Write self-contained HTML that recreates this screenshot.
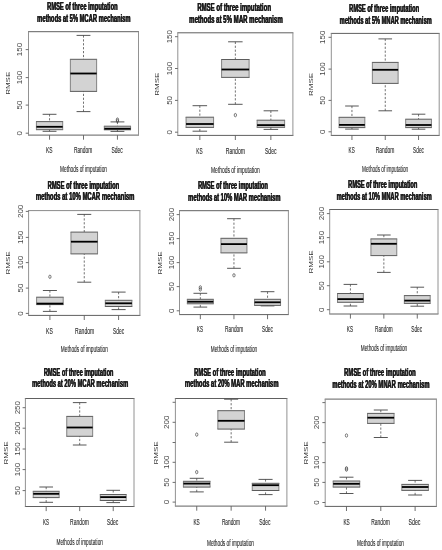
<!DOCTYPE html>
<html><head><meta charset="utf-8"><title>RMSE boxplots</title>
<style>
html,body{margin:0;padding:0;background:#fff;}
svg{display:block;}
text{font-family:"Liberation Sans",Arial,sans-serif;}
.tt{font-weight:bold;font-size:10.2px;fill:#1a1a1a;stroke:#1a1a1a;stroke-width:0.2;}
.al{font-size:8.4px;fill:#2a2a2a;stroke:#2a2a2a;stroke-width:0.12;}
.tl{font-size:8px;fill:#444;text-anchor:middle;}
.yl{font-size:8px;fill:#333;text-anchor:middle;}
.frh{fill:none;stroke:#606060;stroke-width:1;}
.frv{fill:none;stroke:#929292;stroke-width:1;}
.tk{stroke:#5e5e5e;stroke-width:0.9;}
.bx{fill:#d3d3d3;stroke:none;}
.bxh{fill:none;stroke:#4c4c4c;stroke-width:0.9;}
.bxv{fill:none;stroke:#707070;stroke-width:0.85;}
.md{stroke:#000;stroke-width:1.8;}
.wk{stroke:#5a5a5a;stroke-width:0.85;stroke-dasharray:2.2 1.7;}
.cap{stroke:#444;stroke-width:0.9;}
.ol{fill:none;stroke:#444;stroke-width:0.7;}
</style></head>
<body>
<svg width="442" height="550" viewBox="0 0 442 550">
<rect width="442" height="550" fill="#fff"/>
<g>
<path class="frh" d="M28 31.7H139"/>
<path class="frh" d="M28 135.1H139"/>
<path class="frv" d="M28.5 31.7V135.1M138.5 31.7V135.1"/>
<line x1="49.55" y1="114.3" x2="49.55" y2="121.6" class="wk"/>
<line x1="49.55" y1="131.3" x2="49.55" y2="129.7" class="wk"/>
<line x1="42.62" y1="114.3" x2="56.48" y2="114.3" class="cap"/>
<line x1="42.62" y1="131.3" x2="56.48" y2="131.3" class="cap"/>
<rect x="36.41" y="121.6" width="26.27" height="8.1" class="bx"/>
<path class="bxh" d="M35.99 121.6H63.11M35.99 129.7H63.11"/>
<path class="bxv" d="M36.41 121.6V129.7M62.69 121.6V129.7"/>
<line x1="36.41" y1="126.8" x2="62.69" y2="126.8" class="md"/>
<line x1="83.5" y1="35.4" x2="83.5" y2="59.3" class="wk"/>
<line x1="83.5" y1="111.6" x2="83.5" y2="91.4" class="wk"/>
<line x1="76.57" y1="35.4" x2="90.43" y2="35.4" class="cap"/>
<line x1="76.57" y1="111.6" x2="90.43" y2="111.6" class="cap"/>
<rect x="70.36" y="59.3" width="26.27" height="32.1" class="bx"/>
<path class="bxh" d="M69.94 59.3H97.06M69.94 91.4H97.06"/>
<path class="bxv" d="M70.36 59.3V91.4M96.64 59.3V91.4"/>
<line x1="70.36" y1="73.5" x2="96.64" y2="73.5" class="md"/>
<line x1="117.45" y1="121.9" x2="117.45" y2="126.2" class="wk"/>
<line x1="117.45" y1="131.4" x2="117.45" y2="129.8" class="wk"/>
<line x1="110.52" y1="121.9" x2="124.38" y2="121.9" class="cap"/>
<line x1="110.52" y1="131.4" x2="124.38" y2="131.4" class="cap"/>
<rect x="104.31" y="126.2" width="26.27" height="3.6" class="bx"/>
<path class="bxh" d="M103.89 126.2H131.01M103.89 129.8H131.01"/>
<path class="bxv" d="M104.31 126.2V129.8M130.59 126.2V129.8"/>
<line x1="104.31" y1="128.7" x2="130.59" y2="128.7" class="md"/>
<ellipse cx="117.45" cy="119.6" rx="1.15" ry="1.7" class="ol"/>
<ellipse cx="117.45" cy="120.9" rx="1.15" ry="1.7" class="ol"/>
<line x1="25.7" y1="133.2" x2="28.5" y2="133.2" class="tk"/>
<text class="tl" transform="translate(20,133.2) scale(0.8,1) rotate(-90)" x="0" y="2.9">0</text>
<line x1="25.7" y1="105.1" x2="28.5" y2="105.1" class="tk"/>
<text class="tl" transform="translate(20,105.1) scale(0.8,1) rotate(-90)" x="0" y="2.9">50</text>
<line x1="25.7" y1="77.6" x2="28.5" y2="77.6" class="tk"/>
<text class="tl" transform="translate(20,77.6) scale(0.8,1) rotate(-90)" x="0" y="2.9">100</text>
<line x1="25.7" y1="49.6" x2="28.5" y2="49.6" class="tk"/>
<text class="tl" transform="translate(20,49.6) scale(0.8,1) rotate(-90)" x="0" y="2.9">150</text>
<line x1="49.55" y1="135.1" x2="49.55" y2="139.7" class="tk"/>
<line x1="83.5" y1="135.1" x2="83.5" y2="139.7" class="tk"/>
<line x1="117.45" y1="135.1" x2="117.45" y2="139.7" class="tk"/>
<text class="al" x="46.1" y="153" textLength="6.5" lengthAdjust="spacingAndGlyphs">KS</text>
<text class="al" x="73.9" y="153" textLength="18.4" lengthAdjust="spacingAndGlyphs">Random</text>
<text class="al" x="111.5" y="153" textLength="11.3" lengthAdjust="spacingAndGlyphs">Sdec</text>
<text class="al" x="60" y="172.1" textLength="47" lengthAdjust="spacingAndGlyphs">Methods of imputation</text>
<text class="yl" transform="translate(7.9,83.3) scale(0.7,1) rotate(-90)" x="0" y="2.9">RMSE</text>
<text class="tt" x="47" y="9.9" textLength="70.45" lengthAdjust="spacingAndGlyphs">RMSE of three imputation</text>
<text class="tt" x="37" y="21.8" textLength="93.45" lengthAdjust="spacingAndGlyphs">methods at 5% MCAR mechanism</text>
<text class="tt" x="47.25" y="9.9" textLength="70.45" lengthAdjust="spacingAndGlyphs">RMSE of three imputation</text>
<text class="tt" x="37.25" y="21.8" textLength="93.45" lengthAdjust="spacingAndGlyphs">methods at 5% MCAR mechanism</text>
</g>
<g>
<path class="frh" d="M177.3 32.8H293.4"/>
<path class="frh" d="M177.3 135.4H293.4"/>
<path class="frv" d="M177.8 32.8V135.4M292.9 32.8V135.4"/>
<line x1="199.83" y1="105.7" x2="199.83" y2="117.2" class="wk"/>
<line x1="199.83" y1="131.2" x2="199.83" y2="127.4" class="wk"/>
<line x1="192.57" y1="105.7" x2="207.08" y2="105.7" class="cap"/>
<line x1="192.57" y1="131.2" x2="207.08" y2="131.2" class="cap"/>
<rect x="186.06" y="117.2" width="27.53" height="10.2" class="bx"/>
<path class="bxh" d="M185.64 117.2H214.01M185.64 127.4H214.01"/>
<path class="bxv" d="M186.06 117.2V127.4M213.59 117.2V127.4"/>
<line x1="186.06" y1="124" x2="213.59" y2="124" class="md"/>
<line x1="235.35" y1="41.8" x2="235.35" y2="59.5" class="wk"/>
<line x1="235.35" y1="104.3" x2="235.35" y2="77.4" class="wk"/>
<line x1="228.1" y1="41.8" x2="242.6" y2="41.8" class="cap"/>
<line x1="228.1" y1="104.3" x2="242.6" y2="104.3" class="cap"/>
<rect x="221.58" y="59.5" width="27.53" height="17.9" class="bx"/>
<path class="bxh" d="M221.16 59.5H249.54M221.16 77.4H249.54"/>
<path class="bxv" d="M221.58 59.5V77.4M249.12 59.5V77.4"/>
<line x1="221.58" y1="69.5" x2="249.12" y2="69.5" class="md"/>
<ellipse cx="235.35" cy="115.1" rx="1.15" ry="1.7" class="ol"/>
<line x1="270.87" y1="110.8" x2="270.87" y2="120.2" class="wk"/>
<line x1="270.87" y1="129.4" x2="270.87" y2="127.3" class="wk"/>
<line x1="263.62" y1="110.8" x2="278.13" y2="110.8" class="cap"/>
<line x1="263.62" y1="129.4" x2="278.13" y2="129.4" class="cap"/>
<rect x="257.11" y="120.2" width="27.53" height="7.1" class="bx"/>
<path class="bxh" d="M256.69 120.2H285.06M256.69 127.3H285.06"/>
<path class="bxv" d="M257.11 120.2V127.3M284.64 120.2V127.3"/>
<line x1="257.11" y1="125.1" x2="284.64" y2="125.1" class="md"/>
<line x1="175" y1="132.2" x2="177.8" y2="132.2" class="tk"/>
<text class="tl" transform="translate(170,132.2) scale(0.8,1) rotate(-90)" x="0" y="2.9">0</text>
<line x1="175" y1="100.4" x2="177.8" y2="100.4" class="tk"/>
<text class="tl" transform="translate(170,100.4) scale(0.8,1) rotate(-90)" x="0" y="2.9">50</text>
<line x1="175" y1="68.5" x2="177.8" y2="68.5" class="tk"/>
<text class="tl" transform="translate(170,68.5) scale(0.8,1) rotate(-90)" x="0" y="2.9">100</text>
<line x1="175" y1="36.7" x2="177.8" y2="36.7" class="tk"/>
<text class="tl" transform="translate(170,36.7) scale(0.8,1) rotate(-90)" x="0" y="2.9">150</text>
<line x1="199.83" y1="135.4" x2="199.83" y2="140" class="tk"/>
<line x1="235.35" y1="135.4" x2="235.35" y2="140" class="tk"/>
<line x1="270.87" y1="135.4" x2="270.87" y2="140" class="tk"/>
<text class="al" x="196.3" y="153.5" textLength="6.3" lengthAdjust="spacingAndGlyphs">KS</text>
<text class="al" x="225.7" y="153.5" textLength="19.3" lengthAdjust="spacingAndGlyphs">Random</text>
<text class="al" x="264.9" y="153.5" textLength="11.7" lengthAdjust="spacingAndGlyphs">Sdec</text>
<text class="al" x="211" y="173" textLength="48.7" lengthAdjust="spacingAndGlyphs">Methods of imputation</text>
<text class="yl" transform="translate(156.6,84.2) scale(0.7,1) rotate(-90)" x="0" y="2.9">RMSE</text>
<text class="tt" x="197.2" y="11.4" textLength="73.65" lengthAdjust="spacingAndGlyphs">RMSE of three imputation</text>
<text class="tt" x="189" y="23.2" textLength="93.55" lengthAdjust="spacingAndGlyphs">methods at 5% MAR mechanism</text>
<text class="tt" x="197.45" y="11.4" textLength="73.65" lengthAdjust="spacingAndGlyphs">RMSE of three imputation</text>
<text class="tt" x="189.25" y="23.2" textLength="93.55" lengthAdjust="spacingAndGlyphs">methods at 5% MAR mechanism</text>
</g>
<g>
<path class="frh" d="M330.8 33.4H439.7"/>
<path class="frh" d="M330.8 135.4H439.7"/>
<path class="frv" d="M331.3 33.4V135.4M439.2 33.4V135.4"/>
<line x1="351.95" y1="106" x2="351.95" y2="117.3" class="wk"/>
<line x1="351.95" y1="129.1" x2="351.95" y2="127.6" class="wk"/>
<line x1="345.15" y1="106" x2="358.75" y2="106" class="cap"/>
<line x1="345.15" y1="129.1" x2="358.75" y2="129.1" class="cap"/>
<rect x="339.07" y="117.3" width="25.76" height="10.3" class="bx"/>
<path class="bxh" d="M338.65 117.3H365.25M338.65 127.6H365.25"/>
<path class="bxv" d="M339.07 117.3V127.6M364.83 117.3V127.6"/>
<line x1="339.07" y1="124.9" x2="364.83" y2="124.9" class="md"/>
<line x1="385.25" y1="38.9" x2="385.25" y2="62.4" class="wk"/>
<line x1="385.25" y1="110.8" x2="385.25" y2="83.4" class="wk"/>
<line x1="378.45" y1="38.9" x2="392.05" y2="38.9" class="cap"/>
<line x1="378.45" y1="110.8" x2="392.05" y2="110.8" class="cap"/>
<rect x="372.37" y="62.4" width="25.76" height="21" class="bx"/>
<path class="bxh" d="M371.95 62.4H398.55M371.95 83.4H398.55"/>
<path class="bxv" d="M372.37 62.4V83.4M398.13 62.4V83.4"/>
<line x1="372.37" y1="69.8" x2="398.13" y2="69.8" class="md"/>
<line x1="418.55" y1="114.2" x2="418.55" y2="119.2" class="wk"/>
<line x1="418.55" y1="129.2" x2="418.55" y2="127.6" class="wk"/>
<line x1="411.75" y1="114.2" x2="425.35" y2="114.2" class="cap"/>
<line x1="411.75" y1="129.2" x2="425.35" y2="129.2" class="cap"/>
<rect x="405.67" y="119.2" width="25.76" height="8.4" class="bx"/>
<path class="bxh" d="M405.25 119.2H431.85M405.25 127.6H431.85"/>
<path class="bxv" d="M405.67 119.2V127.6M431.43 119.2V127.6"/>
<line x1="405.67" y1="125" x2="431.43" y2="125" class="md"/>
<line x1="328.5" y1="131.8" x2="331.3" y2="131.8" class="tk"/>
<text class="tl" transform="translate(322.7,131.8) scale(0.8,1) rotate(-90)" x="0" y="2.9">0</text>
<line x1="328.5" y1="100.4" x2="331.3" y2="100.4" class="tk"/>
<text class="tl" transform="translate(322.7,100.4) scale(0.8,1) rotate(-90)" x="0" y="2.9">50</text>
<line x1="328.5" y1="69.1" x2="331.3" y2="69.1" class="tk"/>
<text class="tl" transform="translate(322.7,69.1) scale(0.8,1) rotate(-90)" x="0" y="2.9">100</text>
<line x1="328.5" y1="37.3" x2="331.3" y2="37.3" class="tk"/>
<text class="tl" transform="translate(322.7,37.3) scale(0.8,1) rotate(-90)" x="0" y="2.9">150</text>
<line x1="351.95" y1="135.4" x2="351.95" y2="140" class="tk"/>
<line x1="385.25" y1="135.4" x2="385.25" y2="140" class="tk"/>
<line x1="418.55" y1="135.4" x2="418.55" y2="140" class="tk"/>
<text class="al" x="348.6" y="153" textLength="6.1" lengthAdjust="spacingAndGlyphs">KS</text>
<text class="al" x="375.7" y="153" textLength="18.6" lengthAdjust="spacingAndGlyphs">Random</text>
<text class="al" x="413.1" y="153" textLength="10.8" lengthAdjust="spacingAndGlyphs">Sdec</text>
<text class="al" x="362.1" y="172.3" textLength="46" lengthAdjust="spacingAndGlyphs">Methods of imputation</text>
<text class="yl" transform="translate(310.9,84.4) scale(0.7,1) rotate(-90)" x="0" y="2.9">RMSE</text>
<text class="tt" x="349" y="12.1" textLength="69.95" lengthAdjust="spacingAndGlyphs">RMSE of three imputation</text>
<text class="tt" x="339.6" y="24" textLength="92.05" lengthAdjust="spacingAndGlyphs">methods at 5% MNAR mechanism</text>
<text class="tt" x="349.25" y="12.1" textLength="69.95" lengthAdjust="spacingAndGlyphs">RMSE of three imputation</text>
<text class="tt" x="339.85" y="24" textLength="92.05" lengthAdjust="spacingAndGlyphs">methods at 5% MNAR mechanism</text>
</g>
<g>
<path class="frh" style="stroke:#8a8a8a" d="M28.1 210.6H140.4"/>
<path class="frh" d="M28.1 315.4H140.4"/>
<path class="frv" d="M28.6 210.6V315.4M139.9 210.6V315.4"/>
<line x1="49.9" y1="290.5" x2="49.9" y2="297.2" class="wk"/>
<line x1="49.9" y1="311.4" x2="49.9" y2="304.6" class="wk"/>
<line x1="42.89" y1="290.5" x2="56.91" y2="290.5" class="cap"/>
<line x1="42.89" y1="311.4" x2="56.91" y2="311.4" class="cap"/>
<rect x="36.6" y="297.2" width="26.6" height="7.4" class="bx"/>
<path class="bxh" d="M36.18 297.2H63.62M36.18 304.6H63.62"/>
<path class="bxv" d="M36.6 297.2V304.6M63.2 297.2V304.6"/>
<line x1="36.6" y1="303.6" x2="63.2" y2="303.6" class="md"/>
<ellipse cx="49.9" cy="276.8" rx="1.15" ry="1.7" class="ol"/>
<line x1="84.25" y1="214.4" x2="84.25" y2="232.1" class="wk"/>
<line x1="84.25" y1="282.2" x2="84.25" y2="253.9" class="wk"/>
<line x1="77.24" y1="214.4" x2="91.26" y2="214.4" class="cap"/>
<line x1="77.24" y1="282.2" x2="91.26" y2="282.2" class="cap"/>
<rect x="70.95" y="232.1" width="26.6" height="21.8" class="bx"/>
<path class="bxh" d="M70.53 232.1H97.97M70.53 253.9H97.97"/>
<path class="bxv" d="M70.95 232.1V253.9M97.55 232.1V253.9"/>
<line x1="70.95" y1="241.7" x2="97.55" y2="241.7" class="md"/>
<line x1="118.6" y1="292.1" x2="118.6" y2="300.3" class="wk"/>
<line x1="118.6" y1="309.6" x2="118.6" y2="306.5" class="wk"/>
<line x1="111.59" y1="292.1" x2="125.61" y2="292.1" class="cap"/>
<line x1="111.59" y1="309.6" x2="125.61" y2="309.6" class="cap"/>
<rect x="105.3" y="300.3" width="26.6" height="6.2" class="bx"/>
<path class="bxh" d="M104.88 300.3H132.32M104.88 306.5H132.32"/>
<path class="bxv" d="M105.3 300.3V306.5M131.9 300.3V306.5"/>
<line x1="105.3" y1="303.3" x2="131.9" y2="303.3" class="md"/>
<line x1="25.8" y1="313.4" x2="28.6" y2="313.4" class="tk"/>
<text class="tl" transform="translate(20.4,313.4) scale(0.8,1) rotate(-90)" x="0" y="2.9">0</text>
<line x1="25.8" y1="288.1" x2="28.6" y2="288.1" class="tk"/>
<text class="tl" transform="translate(20.4,288.1) scale(0.8,1) rotate(-90)" x="0" y="2.9">50</text>
<line x1="25.8" y1="262.6" x2="28.6" y2="262.6" class="tk"/>
<text class="tl" transform="translate(20.4,262.6) scale(0.8,1) rotate(-90)" x="0" y="2.9">100</text>
<line x1="25.8" y1="237.4" x2="28.6" y2="237.4" class="tk"/>
<text class="tl" transform="translate(20.4,237.4) scale(0.8,1) rotate(-90)" x="0" y="2.9">150</text>
<line x1="25.8" y1="211.4" x2="28.6" y2="211.4" class="tk"/>
<text class="tl" transform="translate(20.4,211.4) scale(0.8,1) rotate(-90)" x="0" y="2.9">200</text>
<line x1="49.9" y1="315.4" x2="49.9" y2="320" class="tk"/>
<line x1="84.25" y1="315.4" x2="84.25" y2="320" class="tk"/>
<line x1="118.6" y1="315.4" x2="118.6" y2="320" class="tk"/>
<text class="al" x="46.1" y="333.5" textLength="6.8" lengthAdjust="spacingAndGlyphs">KS</text>
<text class="al" x="75.1" y="333.5" textLength="19.2" lengthAdjust="spacingAndGlyphs">Random</text>
<text class="al" x="113.1" y="333.5" textLength="11.1" lengthAdjust="spacingAndGlyphs">Sdec</text>
<text class="al" x="60.8" y="352.3" textLength="47.1" lengthAdjust="spacingAndGlyphs">Methods of imputation</text>
<text class="yl" transform="translate(8.2,263) scale(0.7,1) rotate(-90)" x="0" y="2.9">RMSE</text>
<text class="tt" x="47.5" y="188.7" textLength="71.55" lengthAdjust="spacingAndGlyphs">RMSE of three imputation</text>
<text class="tt" x="35.7" y="200.3" textLength="98.65" lengthAdjust="spacingAndGlyphs">methods at 10% MCAR mechanism</text>
<text class="tt" x="47.75" y="188.7" textLength="71.55" lengthAdjust="spacingAndGlyphs">RMSE of three imputation</text>
<text class="tt" x="35.95" y="200.3" textLength="98.65" lengthAdjust="spacingAndGlyphs">methods at 10% MCAR mechanism</text>
</g>
<g>
<path class="frh" d="M179 210.7H288.9"/>
<path class="frh" d="M179 314.6H288.9"/>
<path class="frv" d="M179.5 210.7V314.6M288.4 210.7V314.6"/>
<line x1="200.34" y1="293.3" x2="200.34" y2="299.3" class="wk"/>
<line x1="200.34" y1="307.1" x2="200.34" y2="303.8" class="wk"/>
<line x1="193.48" y1="293.3" x2="207.2" y2="293.3" class="cap"/>
<line x1="193.48" y1="307.1" x2="207.2" y2="307.1" class="cap"/>
<rect x="187.34" y="299.3" width="26" height="4.5" class="bx"/>
<path class="bxh" d="M186.92 299.3H213.76M186.92 303.8H213.76"/>
<path class="bxv" d="M187.34 299.3V303.8M213.34 299.3V303.8"/>
<line x1="187.34" y1="301.7" x2="213.34" y2="301.7" class="md"/>
<ellipse cx="200.34" cy="287.4" rx="1.15" ry="1.7" class="ol"/>
<ellipse cx="200.34" cy="289.4" rx="1.15" ry="1.7" class="ol"/>
<line x1="233.95" y1="218.7" x2="233.95" y2="238.3" class="wk"/>
<line x1="233.95" y1="268.3" x2="233.95" y2="252.9" class="wk"/>
<line x1="227.09" y1="218.7" x2="240.81" y2="218.7" class="cap"/>
<line x1="227.09" y1="268.3" x2="240.81" y2="268.3" class="cap"/>
<rect x="220.95" y="238.3" width="26" height="14.6" class="bx"/>
<path class="bxh" d="M220.53 238.3H247.37M220.53 252.9H247.37"/>
<path class="bxv" d="M220.95 238.3V252.9M246.95 238.3V252.9"/>
<line x1="220.95" y1="244.1" x2="246.95" y2="244.1" class="md"/>
<ellipse cx="233.95" cy="275.3" rx="1.15" ry="1.7" class="ol"/>
<line x1="267.56" y1="291.7" x2="267.56" y2="299.3" class="wk"/>
<line x1="267.56" y1="305.9" x2="267.56" y2="305.4" class="wk"/>
<line x1="260.7" y1="291.7" x2="274.42" y2="291.7" class="cap"/>
<line x1="260.7" y1="305.9" x2="274.42" y2="305.9" class="cap"/>
<rect x="254.56" y="299.3" width="26" height="6.1" class="bx"/>
<path class="bxh" d="M254.14 299.3H280.98M254.14 305.4H280.98"/>
<path class="bxv" d="M254.56 299.3V305.4M280.56 299.3V305.4"/>
<line x1="254.56" y1="302.3" x2="280.56" y2="302.3" class="md"/>
<line x1="176.7" y1="310.8" x2="179.5" y2="310.8" class="tk"/>
<text class="tl" transform="translate(171.4,310.8) scale(0.8,1) rotate(-90)" x="0" y="2.9">0</text>
<line x1="176.7" y1="286.6" x2="179.5" y2="286.6" class="tk"/>
<text class="tl" transform="translate(171.4,286.6) scale(0.8,1) rotate(-90)" x="0" y="2.9">50</text>
<line x1="176.7" y1="262.6" x2="179.5" y2="262.6" class="tk"/>
<text class="tl" transform="translate(171.4,262.6) scale(0.8,1) rotate(-90)" x="0" y="2.9">100</text>
<line x1="176.7" y1="238.6" x2="179.5" y2="238.6" class="tk"/>
<text class="tl" transform="translate(171.4,238.6) scale(0.8,1) rotate(-90)" x="0" y="2.9">150</text>
<line x1="176.7" y1="214.6" x2="179.5" y2="214.6" class="tk"/>
<text class="tl" transform="translate(171.4,214.6) scale(0.8,1) rotate(-90)" x="0" y="2.9">200</text>
<line x1="200.34" y1="314.6" x2="200.34" y2="319.2" class="tk"/>
<line x1="233.95" y1="314.6" x2="233.95" y2="319.2" class="tk"/>
<line x1="267.56" y1="314.6" x2="267.56" y2="319.2" class="tk"/>
<text class="al" x="196.8" y="332.4" textLength="6.3" lengthAdjust="spacingAndGlyphs">KS</text>
<text class="al" x="225.1" y="332.4" textLength="18.1" lengthAdjust="spacingAndGlyphs">Random</text>
<text class="al" x="261.9" y="332.4" textLength="11.1" lengthAdjust="spacingAndGlyphs">Sdec</text>
<text class="al" x="210.8" y="351.8" textLength="46.4" lengthAdjust="spacingAndGlyphs">Methods of imputation</text>
<text class="yl" transform="translate(160.3,263) scale(0.7,1) rotate(-90)" x="0" y="2.9">RMSE</text>
<text class="tt" x="197.9" y="189.4" textLength="69.95" lengthAdjust="spacingAndGlyphs">RMSE of three imputation</text>
<text class="tt" x="188.1" y="200.6" textLength="92.35" lengthAdjust="spacingAndGlyphs">methods at 10% MAR mechanism</text>
<text class="tt" x="198.15" y="189.4" textLength="69.95" lengthAdjust="spacingAndGlyphs">RMSE of three imputation</text>
<text class="tt" x="188.35" y="200.6" textLength="92.35" lengthAdjust="spacingAndGlyphs">methods at 10% MAR mechanism</text>
</g>
<g>
<path class="frh" d="M329.2 209.5H438.5"/>
<path class="frh" d="M329.2 314H438.5"/>
<path class="frv" d="M329.7 209.5V314M438 209.5V314"/>
<line x1="350.42" y1="284.4" x2="350.42" y2="293.5" class="wk"/>
<line x1="350.42" y1="306" x2="350.42" y2="302.3" class="wk"/>
<line x1="343.6" y1="284.4" x2="357.25" y2="284.4" class="cap"/>
<line x1="343.6" y1="306" x2="357.25" y2="306" class="cap"/>
<rect x="337.5" y="293.5" width="25.86" height="8.8" class="bx"/>
<path class="bxh" d="M337.08 293.5H363.77M337.08 302.3H363.77"/>
<path class="bxv" d="M337.5 293.5V302.3M363.35 293.5V302.3"/>
<line x1="337.5" y1="299.1" x2="363.35" y2="299.1" class="md"/>
<line x1="383.85" y1="235" x2="383.85" y2="238.9" class="wk"/>
<line x1="383.85" y1="272.4" x2="383.85" y2="255.6" class="wk"/>
<line x1="377.03" y1="235" x2="390.67" y2="235" class="cap"/>
<line x1="377.03" y1="272.4" x2="390.67" y2="272.4" class="cap"/>
<rect x="370.92" y="238.9" width="25.86" height="16.7" class="bx"/>
<path class="bxh" d="M370.5 238.9H397.2M370.5 255.6H397.2"/>
<path class="bxv" d="M370.92 238.9V255.6M396.78 238.9V255.6"/>
<line x1="370.92" y1="243.8" x2="396.78" y2="243.8" class="md"/>
<line x1="417.28" y1="287.2" x2="417.28" y2="295.6" class="wk"/>
<line x1="417.28" y1="306.2" x2="417.28" y2="303.4" class="wk"/>
<line x1="410.45" y1="287.2" x2="424.1" y2="287.2" class="cap"/>
<line x1="410.45" y1="306.2" x2="424.1" y2="306.2" class="cap"/>
<rect x="404.35" y="295.6" width="25.86" height="7.8" class="bx"/>
<path class="bxh" d="M403.93 295.6H430.62M403.93 303.4H430.62"/>
<path class="bxv" d="M404.35 295.6V303.4M430.2 295.6V303.4"/>
<line x1="404.35" y1="300.6" x2="430.2" y2="300.6" class="md"/>
<line x1="326.9" y1="309.7" x2="329.7" y2="309.7" class="tk"/>
<text class="tl" transform="translate(321.4,309.7) scale(0.8,1) rotate(-90)" x="0" y="2.9">0</text>
<line x1="326.9" y1="285.7" x2="329.7" y2="285.7" class="tk"/>
<text class="tl" transform="translate(321.4,285.7) scale(0.8,1) rotate(-90)" x="0" y="2.9">50</text>
<line x1="326.9" y1="261.8" x2="329.7" y2="261.8" class="tk"/>
<text class="tl" transform="translate(321.4,261.8) scale(0.8,1) rotate(-90)" x="0" y="2.9">100</text>
<line x1="326.9" y1="237.6" x2="329.7" y2="237.6" class="tk"/>
<text class="tl" transform="translate(321.4,237.6) scale(0.8,1) rotate(-90)" x="0" y="2.9">150</text>
<line x1="326.9" y1="213.6" x2="329.7" y2="213.6" class="tk"/>
<text class="tl" transform="translate(321.4,213.6) scale(0.8,1) rotate(-90)" x="0" y="2.9">200</text>
<line x1="350.42" y1="314" x2="350.42" y2="318.6" class="tk"/>
<line x1="383.85" y1="314" x2="383.85" y2="318.6" class="tk"/>
<line x1="417.28" y1="314" x2="417.28" y2="318.6" class="tk"/>
<text class="al" x="346.8" y="331.5" textLength="6.3" lengthAdjust="spacingAndGlyphs">KS</text>
<text class="al" x="375.1" y="331.5" textLength="17.6" lengthAdjust="spacingAndGlyphs">Random</text>
<text class="al" x="411.3" y="331.5" textLength="10.8" lengthAdjust="spacingAndGlyphs">Sdec</text>
<text class="al" x="360.8" y="351.1" textLength="46.4" lengthAdjust="spacingAndGlyphs">Methods of imputation</text>
<text class="yl" transform="translate(310.9,262) scale(0.7,1) rotate(-90)" x="0" y="2.9">RMSE</text>
<text class="tt" x="348.1" y="188.1" textLength="69.15" lengthAdjust="spacingAndGlyphs">RMSE of three imputation</text>
<text class="tt" x="336.4" y="199.5" textLength="95.25" lengthAdjust="spacingAndGlyphs">methods at 10% MNAR mechanism</text>
<text class="tt" x="348.35" y="188.1" textLength="69.15" lengthAdjust="spacingAndGlyphs">RMSE of three imputation</text>
<text class="tt" x="336.65" y="199.5" textLength="95.25" lengthAdjust="spacingAndGlyphs">methods at 10% MNAR mechanism</text>
</g>
<g>
<path class="frh" d="M24.9 398.5H134.5"/>
<path class="frh" d="M24.9 506.5H134.5"/>
<path class="frv" d="M25.4 398.5V506.5M134 398.5V506.5"/>
<line x1="46.18" y1="487" x2="46.18" y2="491.3" class="wk"/>
<line x1="46.18" y1="502.3" x2="46.18" y2="497.6" class="wk"/>
<line x1="39.34" y1="487" x2="53.02" y2="487" class="cap"/>
<line x1="39.34" y1="502.3" x2="53.02" y2="502.3" class="cap"/>
<rect x="33.22" y="491.3" width="25.93" height="6.3" class="bx"/>
<path class="bxh" d="M32.8 491.3H59.57M32.8 497.6H59.57"/>
<path class="bxv" d="M33.22 491.3V497.6M59.15 491.3V497.6"/>
<line x1="33.22" y1="493.8" x2="59.15" y2="493.8" class="md"/>
<line x1="79.7" y1="402.6" x2="79.7" y2="416.4" class="wk"/>
<line x1="79.7" y1="445" x2="79.7" y2="436.3" class="wk"/>
<line x1="72.86" y1="402.6" x2="86.54" y2="402.6" class="cap"/>
<line x1="72.86" y1="445" x2="86.54" y2="445" class="cap"/>
<rect x="66.74" y="416.4" width="25.93" height="19.9" class="bx"/>
<path class="bxh" d="M66.32 416.4H93.08M66.32 436.3H93.08"/>
<path class="bxv" d="M66.74 416.4V436.3M92.66 416.4V436.3"/>
<line x1="66.74" y1="427.5" x2="92.66" y2="427.5" class="md"/>
<line x1="113.22" y1="490.3" x2="113.22" y2="494.5" class="wk"/>
<line x1="113.22" y1="502.6" x2="113.22" y2="500.5" class="wk"/>
<line x1="106.38" y1="490.3" x2="120.06" y2="490.3" class="cap"/>
<line x1="106.38" y1="502.6" x2="120.06" y2="502.6" class="cap"/>
<rect x="100.25" y="494.5" width="25.93" height="6" class="bx"/>
<path class="bxh" d="M99.83 494.5H126.6M99.83 500.5H126.6"/>
<path class="bxv" d="M100.25 494.5V500.5M126.18 494.5V500.5"/>
<line x1="100.25" y1="497.1" x2="126.18" y2="497.1" class="md"/>
<line x1="22.6" y1="490.6" x2="25.4" y2="490.6" class="tk"/>
<text class="tl" transform="translate(17.8,490.6) scale(0.8,1) rotate(-90)" x="0" y="2.9">50</text>
<line x1="22.6" y1="469.6" x2="25.4" y2="469.6" class="tk"/>
<text class="tl" transform="translate(17.8,469.6) scale(0.8,1) rotate(-90)" x="0" y="2.9">100</text>
<line x1="22.6" y1="449" x2="25.4" y2="449" class="tk"/>
<text class="tl" transform="translate(17.8,449) scale(0.8,1) rotate(-90)" x="0" y="2.9">150</text>
<line x1="22.6" y1="428.2" x2="25.4" y2="428.2" class="tk"/>
<text class="tl" transform="translate(17.8,428.2) scale(0.8,1) rotate(-90)" x="0" y="2.9">200</text>
<line x1="22.6" y1="407.7" x2="25.4" y2="407.7" class="tk"/>
<text class="tl" transform="translate(17.8,407.7) scale(0.8,1) rotate(-90)" x="0" y="2.9">250</text>
<line x1="46.18" y1="506.5" x2="46.18" y2="511.1" class="tk"/>
<line x1="79.7" y1="506.5" x2="79.7" y2="511.1" class="tk"/>
<line x1="113.22" y1="506.5" x2="113.22" y2="511.1" class="tk"/>
<text class="al" x="42.9" y="524.9" textLength="6.1" lengthAdjust="spacingAndGlyphs">KS</text>
<text class="al" x="70.1" y="524.9" textLength="18.7" lengthAdjust="spacingAndGlyphs">Random</text>
<text class="al" x="106.9" y="524.9" textLength="11.4" lengthAdjust="spacingAndGlyphs">Sdec</text>
<text class="al" x="56.5" y="545" textLength="46.4" lengthAdjust="spacingAndGlyphs">Methods of imputation</text>
<text class="yl" transform="translate(5.6,453) scale(0.7,1) rotate(-90)" x="0" y="2.9">RMSE</text>
<text class="tt" x="43.7" y="375.7" textLength="69.65" lengthAdjust="spacingAndGlyphs">RMSE of three imputation</text>
<text class="tt" x="32" y="387.4" textLength="96.05" lengthAdjust="spacingAndGlyphs">methods at 20% MCAR mechanism</text>
<text class="tt" x="43.95" y="375.7" textLength="69.65" lengthAdjust="spacingAndGlyphs">RMSE of three imputation</text>
<text class="tt" x="32.25" y="387.4" textLength="96.05" lengthAdjust="spacingAndGlyphs">methods at 20% MCAR mechanism</text>
</g>
<g>
<path class="frh" d="M174.9 398.5H287.4"/>
<path class="frh" d="M174.9 506.1H287.4"/>
<path class="frv" d="M175.4 398.5V506.1M286.9 398.5V506.1"/>
<line x1="196.74" y1="478.3" x2="196.74" y2="481.3" class="wk"/>
<line x1="196.74" y1="491.9" x2="196.74" y2="487.1" class="wk"/>
<line x1="189.71" y1="478.3" x2="203.76" y2="478.3" class="cap"/>
<line x1="189.71" y1="491.9" x2="203.76" y2="491.9" class="cap"/>
<rect x="183.41" y="481.3" width="26.64" height="5.8" class="bx"/>
<path class="bxh" d="M182.99 481.3H210.48M182.99 487.1H210.48"/>
<path class="bxv" d="M183.41 481.3V487.1M210.06 481.3V487.1"/>
<line x1="183.41" y1="483.6" x2="210.06" y2="483.6" class="md"/>
<ellipse cx="196.74" cy="434.6" rx="1.15" ry="1.7" class="ol"/>
<ellipse cx="196.74" cy="472.1" rx="1.15" ry="1.7" class="ol"/>
<line x1="231.15" y1="399.2" x2="231.15" y2="410.7" class="wk"/>
<line x1="231.15" y1="442.2" x2="231.15" y2="429.1" class="wk"/>
<line x1="224.13" y1="399.2" x2="238.17" y2="399.2" class="cap"/>
<line x1="224.13" y1="442.2" x2="238.17" y2="442.2" class="cap"/>
<rect x="217.83" y="410.7" width="26.64" height="18.4" class="bx"/>
<path class="bxh" d="M217.41 410.7H244.89M217.41 429.1H244.89"/>
<path class="bxv" d="M217.83 410.7V429.1M244.47 410.7V429.1"/>
<line x1="217.83" y1="420.8" x2="244.47" y2="420.8" class="md"/>
<line x1="265.56" y1="479.4" x2="265.56" y2="483.3" class="wk"/>
<line x1="265.56" y1="494.6" x2="265.56" y2="490.5" class="wk"/>
<line x1="258.54" y1="479.4" x2="272.59" y2="479.4" class="cap"/>
<line x1="258.54" y1="494.6" x2="272.59" y2="494.6" class="cap"/>
<rect x="252.24" y="483.3" width="26.64" height="7.2" class="bx"/>
<path class="bxh" d="M251.82 483.3H279.31M251.82 490.5H279.31"/>
<path class="bxv" d="M252.24 483.3V490.5M278.89 483.3V490.5"/>
<line x1="252.24" y1="485.2" x2="278.89" y2="485.2" class="md"/>
<line x1="172.6" y1="502.1" x2="175.4" y2="502.1" class="tk"/>
<text class="tl" transform="translate(167,502.1) scale(0.8,1) rotate(-90)" x="0" y="2.9">0</text>
<line x1="172.6" y1="482.4" x2="175.4" y2="482.4" class="tk"/>
<text class="tl" transform="translate(167,482.4) scale(0.8,1) rotate(-90)" x="0" y="2.9">50</text>
<line x1="172.6" y1="462.3" x2="175.4" y2="462.3" class="tk"/>
<text class="tl" transform="translate(167,462.3) scale(0.8,1) rotate(-90)" x="0" y="2.9">100</text>
<line x1="172.6" y1="442.5" x2="175.4" y2="442.5" class="tk"/>
<line x1="172.6" y1="422.3" x2="175.4" y2="422.3" class="tk"/>
<text class="tl" transform="translate(167,422.3) scale(0.8,1) rotate(-90)" x="0" y="2.9">200</text>
<line x1="172.6" y1="402.3" x2="175.4" y2="402.3" class="tk"/>
<line x1="196.74" y1="506.1" x2="196.74" y2="510.7" class="tk"/>
<line x1="231.15" y1="506.1" x2="231.15" y2="510.7" class="tk"/>
<line x1="265.56" y1="506.1" x2="265.56" y2="510.7" class="tk"/>
<text class="al" x="193.4" y="524.6" textLength="6.3" lengthAdjust="spacingAndGlyphs">KS</text>
<text class="al" x="221.9" y="524.6" textLength="18.1" lengthAdjust="spacingAndGlyphs">Random</text>
<text class="al" x="259.2" y="524.6" textLength="11.3" lengthAdjust="spacingAndGlyphs">Sdec</text>
<text class="al" x="206.9" y="545.7" textLength="47.1" lengthAdjust="spacingAndGlyphs">Methods of imputation</text>
<text class="yl" transform="translate(155.6,453) scale(0.7,1) rotate(-90)" x="0" y="2.9">RMSE</text>
<text class="tt" x="194.1" y="375.7" textLength="71.45" lengthAdjust="spacingAndGlyphs">RMSE of three imputation</text>
<text class="tt" x="184.8" y="387.4" textLength="93.55" lengthAdjust="spacingAndGlyphs">methods at 20% MAR mechanism</text>
<text class="tt" x="194.35" y="375.7" textLength="71.45" lengthAdjust="spacingAndGlyphs">RMSE of three imputation</text>
<text class="tt" x="185.05" y="387.4" textLength="93.55" lengthAdjust="spacingAndGlyphs">methods at 20% MAR mechanism</text>
</g>
<g>
<path class="frh" d="M324.7 399.1H436.9"/>
<path class="frh" d="M324.7 506.4H436.9"/>
<path class="frv" d="M325.2 399.1V506.4M436.4 399.1V506.4"/>
<line x1="346.48" y1="477.2" x2="346.48" y2="481" class="wk"/>
<line x1="346.48" y1="493.5" x2="346.48" y2="487.1" class="wk"/>
<line x1="339.47" y1="477.2" x2="353.48" y2="477.2" class="cap"/>
<line x1="339.47" y1="493.5" x2="353.48" y2="493.5" class="cap"/>
<rect x="333.19" y="481" width="26.57" height="6.1" class="bx"/>
<path class="bxh" d="M332.77 481H360.18M332.77 487.1H360.18"/>
<path class="bxv" d="M333.19 481V487.1M359.76 481V487.1"/>
<line x1="333.19" y1="483.8" x2="359.76" y2="483.8" class="md"/>
<ellipse cx="346.48" cy="435.5" rx="1.15" ry="1.7" class="ol"/>
<ellipse cx="346.48" cy="468.3" rx="1.15" ry="1.7" class="ol"/>
<ellipse cx="346.48" cy="469.6" rx="1.15" ry="1.7" class="ol"/>
<line x1="380.8" y1="410" x2="380.8" y2="413.4" class="wk"/>
<line x1="380.8" y1="437.5" x2="380.8" y2="423.4" class="wk"/>
<line x1="373.79" y1="410" x2="387.81" y2="410" class="cap"/>
<line x1="373.79" y1="437.5" x2="387.81" y2="437.5" class="cap"/>
<rect x="367.51" y="413.4" width="26.57" height="10" class="bx"/>
<path class="bxh" d="M367.09 413.4H394.51M367.09 423.4H394.51"/>
<path class="bxv" d="M367.51 413.4V423.4M394.09 413.4V423.4"/>
<line x1="367.51" y1="417.7" x2="394.09" y2="417.7" class="md"/>
<line x1="415.12" y1="480.4" x2="415.12" y2="484.4" class="wk"/>
<line x1="415.12" y1="495" x2="415.12" y2="490.4" class="wk"/>
<line x1="408.12" y1="480.4" x2="422.13" y2="480.4" class="cap"/>
<line x1="408.12" y1="495" x2="422.13" y2="495" class="cap"/>
<rect x="401.84" y="484.4" width="26.57" height="6" class="bx"/>
<path class="bxh" d="M401.42 484.4H428.83M401.42 490.4H428.83"/>
<path class="bxv" d="M401.84 484.4V490.4M428.41 484.4V490.4"/>
<line x1="401.84" y1="487" x2="428.41" y2="487" class="md"/>
<line x1="322.4" y1="502.5" x2="325.2" y2="502.5" class="tk"/>
<text class="tl" transform="translate(316.7,502.5) scale(0.8,1) rotate(-90)" x="0" y="2.9">0</text>
<line x1="322.4" y1="482.4" x2="325.2" y2="482.4" class="tk"/>
<text class="tl" transform="translate(316.7,482.4) scale(0.8,1) rotate(-90)" x="0" y="2.9">50</text>
<line x1="322.4" y1="462.6" x2="325.2" y2="462.6" class="tk"/>
<text class="tl" transform="translate(316.7,462.6) scale(0.8,1) rotate(-90)" x="0" y="2.9">100</text>
<line x1="322.4" y1="442.6" x2="325.2" y2="442.6" class="tk"/>
<line x1="322.4" y1="422.6" x2="325.2" y2="422.6" class="tk"/>
<text class="tl" transform="translate(316.7,422.6) scale(0.8,1) rotate(-90)" x="0" y="2.9">200</text>
<line x1="322.4" y1="402.6" x2="325.2" y2="402.6" class="tk"/>
<line x1="346.48" y1="506.4" x2="346.48" y2="511" class="tk"/>
<line x1="380.8" y1="506.4" x2="380.8" y2="511" class="tk"/>
<line x1="415.12" y1="506.4" x2="415.12" y2="511" class="tk"/>
<text class="al" x="343.4" y="524.6" textLength="6.3" lengthAdjust="spacingAndGlyphs">KS</text>
<text class="al" x="371.2" y="524.6" textLength="18.6" lengthAdjust="spacingAndGlyphs">Random</text>
<text class="al" x="408.5" y="524.6" textLength="12" lengthAdjust="spacingAndGlyphs">Sdec</text>
<text class="al" x="357" y="545.7" textLength="47" lengthAdjust="spacingAndGlyphs">Methods of imputation</text>
<text class="yl" transform="translate(305.8,453) scale(0.7,1) rotate(-90)" x="0" y="2.9">RMSE</text>
<text class="tt" x="344.1" y="376" textLength="71.45" lengthAdjust="spacingAndGlyphs">RMSE of three imputation</text>
<text class="tt" x="332.3" y="387.6" textLength="97.15" lengthAdjust="spacingAndGlyphs">methods at 20% MNAR mechanism</text>
<text class="tt" x="344.35" y="376" textLength="71.45" lengthAdjust="spacingAndGlyphs">RMSE of three imputation</text>
<text class="tt" x="332.55" y="387.6" textLength="97.15" lengthAdjust="spacingAndGlyphs">methods at 20% MNAR mechanism</text>
</g>
</svg>
</body></html>
